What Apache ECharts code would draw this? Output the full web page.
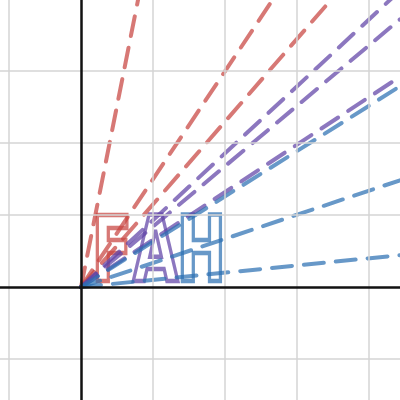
<!DOCTYPE html><html><head><meta charset="utf-8"><script src="https://cdn.jsdelivr.net/npm/echarts@6/dist/echarts.min.js"></script></head><body style="margin:0"><div id="c" style="width:400px;height:400px"></div><script>
const redSlopes=[5.04,1.5,1.15];
const purpleSlopes=[0.93,0.84,0.66];
const blueSlopes=[0.63,0.335,0.1];
const gridX=[-1,1,2,3,4];
const gridY=[-1,1,2,3];
const XMIN=-1.125,XMAX=4.43,YMIN=-1.57,YMAX=3.99;
const colors={red:'rgba(199,68,64,0.72)',purple:'rgba(96,66,166,0.72)',blue:'rgba(45,112,179,0.72)'};
const series=[];
series.push({type:'line',data:[],silent:true,markLine:{symbol:'none',silent:true,label:{show:false},
 lineStyle:{color:'#d4d4d4',width:1.5,type:'solid'},
 data:[...gridX.map(v=>({xAxis:v})),...gridY.map(v=>({yAxis:v}))]}});
series.push({type:'line',data:[],silent:true,markLine:{symbol:'none',silent:true,label:{show:false},
 lineStyle:{color:'#111',width:2.5,type:'solid'},data:[{xAxis:0},{yAxis:0}]}});
function add(sl,c){sl.forEach(s=>series.push({type:'line',symbol:'none',clip:true,
 data:[[0,0],[XMAX,s*XMAX]],lineStyle:{color:c,width:4,type:[20,12],cap:'round'}}));}
add(redSlopes,colors.red);add(purpleSlopes,colors.purple);add(blueSlopes,colors.blue);
const chart=echarts.init(document.getElementById('c'));
const letter=(t,x,c)=>({type:'text',x:x,y:303,scaleX:0.72,style:{text:t,font:'bold 90px "DejaVu Sans Condensed"',fill:'rgba(255,255,255,0)',stroke:c,lineWidth:4.5,verticalAlign:'bottom'}});
chart.setOption({animation:false,backgroundColor:'#fff',
 grid:{left:0,right:0,top:0,bottom:0},
 xAxis:{type:'value',min:XMIN,max:XMAX,show:false,splitLine:{show:false}},
 yAxis:{type:'value',min:YMIN,max:YMAX,show:false,splitLine:{show:false}},
 series,
 graphic:[letter('F',92,colors.red),letter('A',133,colors.purple),letter('H',177,colors.blue)]});
</script></body></html>
